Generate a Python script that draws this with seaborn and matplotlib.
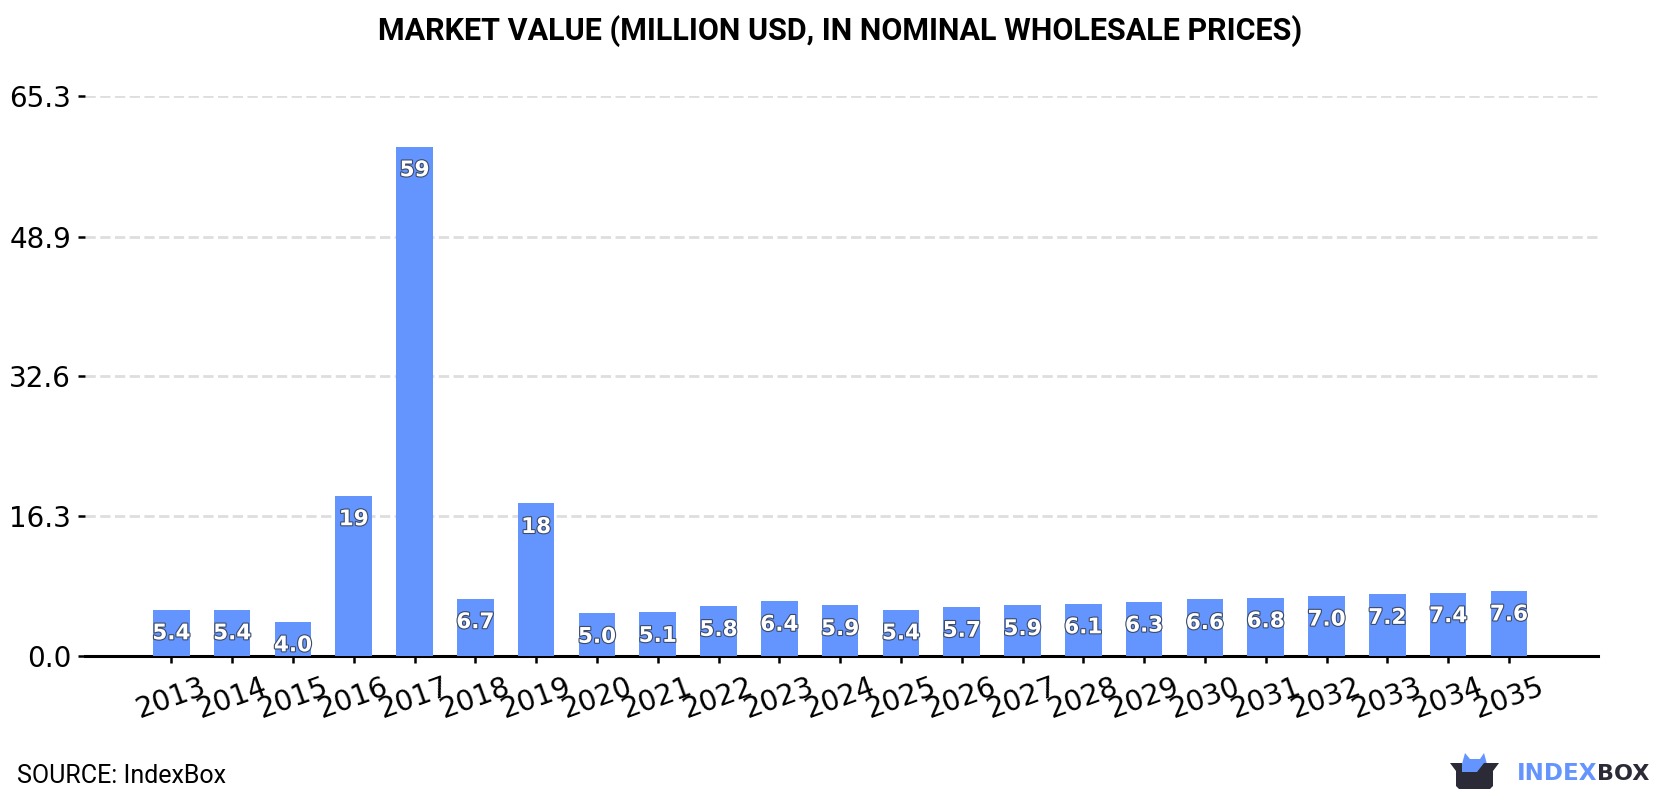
import matplotlib
matplotlib.use("Agg")
import matplotlib.pyplot as plt
import matplotlib.patheffects as pe
from matplotlib.patches import Polygon
import pandas as pd
import seaborn as sns

years = [str(y) for y in range(2013, 2036)]
values = [5.4, 5.4, 4.0, 18.7, 59.4, 6.7, 17.8, 5.0, 5.1, 5.8, 6.4, 5.9,
          5.4, 5.7, 5.9, 6.1, 6.3, 6.6, 6.8, 7.0, 7.2, 7.4, 7.6]
y_ticks = [0.0, 16.3, 32.6, 48.9, 65.3]
title = "MARKET VALUE (MILLION USD, IN NOMINAL WHOLESALE PRICES)"
source = "SOURCE: IndexBox"

BAR = "#6495fe"
INK = "#2a2b36"
W, H = 1680, 800

sns.set_theme(style="white")
plt.rcParams["font.family"] = ["DejaVu Sans"]

fig = plt.figure(figsize=(W / 100, H / 100), dpi=100, facecolor="white")
ax = fig.add_axes([85 / W, 1 - 656 / H, (1597.7 - 85) / W, (656 - 96) / H])

df = pd.DataFrame({"year": years, "value": values})
sns.barplot(data=df, x="year", y="value", color=BAR, width=0.6, saturation=1,
            linewidth=0, edgecolor="none", ax=ax, zorder=3)

ax.set_xlim(-1.42, 23.46)
ax.set_ylim(0, 65.3)
ax.set_xlabel("")
ax.set_ylabel("")
ax.set_yticks(y_ticks, [f"{t:.1f}" for t in y_ticks])
ax.yaxis.grid(True, color="#dedede", linewidth=2, linestyle=(0, (3.7, 1.6)), zorder=0)
ax.xaxis.grid(False)
ax.set_axisbelow(True)
for side in ("top", "right", "left"):
    ax.spines[side].set_visible(False)
ax.spines["bottom"].set_color("black")
ax.spines["bottom"].set_linewidth(2.2)
ax.tick_params(axis="x", length=5, width=1.8, color="black", pad=7, labelsize=20.5,
               labelcolor="black", bottom=True)
ax.tick_params(axis="y", length=5, width=1.8, color="black", pad=5, labelsize=20,
               labelcolor="black", left=True)
for lab in ax.get_xticklabels():
    lab.set_rotation(20)

# value labels sit a fixed distance below the top of each bar
for i, v in enumerate(values):
    text = f"{v:.1f}" if v < 10 else f"{v:.0f}"
    ax.annotate(text, (i, v), xytext=(0, -17), textcoords="offset points",
                ha="center", va="center", fontsize=15.5, fontweight="bold", color="white",
                zorder=5, path_effects=[pe.withStroke(linewidth=1.6, foreground="#3c4a66")])

fig.text(0.5, 1 - 31 / H, title, ha="center", va="center", fontsize=22,
         fontweight="bold", fontfamily="Roboto", color="black")
fig.text(17 / W, 1 - 776 / H, source, ha="left", va="center", fontsize=18,
         fontfamily="Roboto", color="black")

# brand mark and wordmark, laid out in figure pixels
def px(points):
    return [(x / W, 1 - y / H) for x, y in points]

fig.add_artist(Polygon(px([(1462, 764), (1465, 753), (1470, 759), (1480, 759), (1484, 753),
                           (1487, 764), (1478, 772), (1462, 772)]),
                       closed=True, facecolor=BAR, edgecolor="none", transform=fig.transFigure))
fig.add_artist(Polygon(px([(1450, 763), (1462, 763), (1462, 772), (1477, 772), (1484, 763), (1499, 763),
                           (1493, 771), (1493, 786), (1490, 789), (1459, 789), (1456, 786), (1456, 771)]),
                       closed=True, facecolor=INK, edgecolor="none", transform=fig.transFigure))
fig.text(1517 / W, 1 - 774 / H, "INDEX", ha="left", va="center", fontsize=16.6,
         fontweight="bold", color=BAR)
fig.text(1597 / W, 1 - 774 / H, "BOX", ha="left", va="center", fontsize=16,
         fontweight="bold", color=INK)

fig.savefig("out.png", dpi=100, facecolor="white")
